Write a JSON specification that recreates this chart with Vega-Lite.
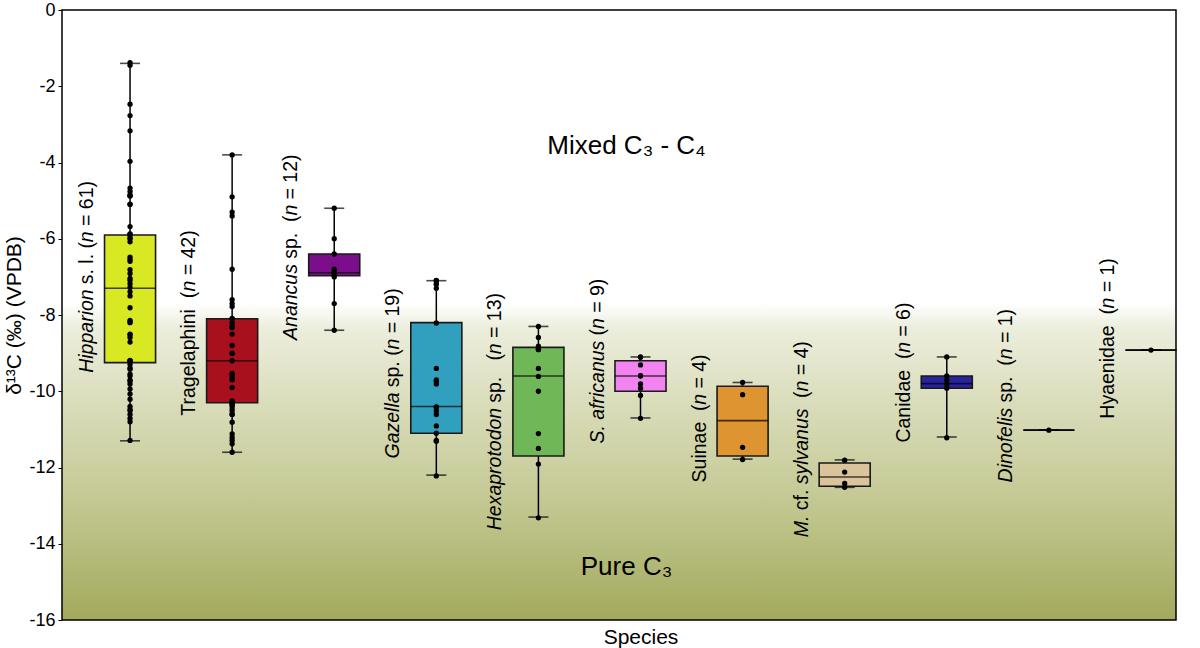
{
  "$schema": "https://vega.github.io/schema/vega-lite/v6.json",
  "width": 1114,
  "height": 610,
  "autosize": {"type": "none"},
  "padding": {"left": 62, "top": 10, "right": 24, "bottom": 28},
  "background": "#ffffff",
  "view": {
    "stroke": "#000000",
    "strokeWidth": 1.5,
    "fill": {
      "gradient": "linear", "x1": 0, "y1": 0, "x2": 0, "y2": 1,
      "stops": [
        {"offset": 0, "color": "#ffffff"},
        {"offset": 0.48, "color": "#ffffff"},
        {"offset": 0.52, "color": "#eceedd"},
        {"offset": 0.65, "color": "#d9dcb9"},
        {"offset": 0.8, "color": "#c4c994"},
        {"offset": 1, "color": "#a3aa5c"}
      ]
    }
  },
  "config": {
    "font": "Liberation Sans",
    "text": {"font": "Liberation Sans"},
    "axis": {"grid": false, "titleFontWeight": "normal", "titleColor": "#000000", "labelColor": "#000000", "titleFont": "Liberation Sans", "labelFont": "Liberation Sans"}
  },
  "datasets": {
    "boxes": [
      {"species": "Hipparion s. l.", "min": -11.3, "q1": -9.25, "median": -7.3, "q3": -5.9, "max": -1.4},
      {"species": "Tragelaphini", "min": -11.6, "q1": -10.3, "median": -9.2, "q3": -8.1, "max": -3.8},
      {"species": "Anancus sp.", "min": -8.4, "q1": -6.97, "median": -6.89, "q3": -6.4, "max": -5.2},
      {"species": "Gazella sp.", "min": -12.2, "q1": -11.1, "median": -10.4, "q3": -8.2, "max": -7.1},
      {"species": "Hexaprotodon sp.", "min": -13.3, "q1": -11.7, "median": -9.6, "q3": -8.85, "max": -8.3},
      {"species": "S. africanus", "min": -10.7, "q1": -10.0, "median": -9.6, "q3": -9.2, "max": -9.1},
      {"species": "Suinae", "min": -11.78, "q1": -11.7, "median": -10.77, "q3": -9.87, "max": -9.77},
      {"species": "M. cf. sylvanus", "min": -12.52, "q1": -12.49, "median": -12.25, "q3": -11.88, "max": -11.8},
      {"species": "Canidae", "min": -11.2, "q1": -9.92, "median": -9.8, "q3": -9.6, "max": -9.1},
      {"species": "Dinofelis sp.", "min": -11.02, "q1": -11.02, "median": -11.02, "q3": -11.02, "max": -11.02},
      {"species": "Hyaenidae", "min": -8.92, "q1": -8.92, "median": -8.92, "q3": -8.92, "max": -8.92}
    ],
    "points": [
      {"species": "Hipparion s. l.", "d13C": -1.38}, {"species": "Hipparion s. l.", "d13C": -1.45}, {"species": "Hipparion s. l.", "d13C": -2.47}, {"species": "Hipparion s. l.", "d13C": -2.77}, {"species": "Hipparion s. l.", "d13C": -3.17},
      {"species": "Hipparion s. l.", "d13C": -3.97}, {"species": "Hipparion s. l.", "d13C": -4.67}, {"species": "Hipparion s. l.", "d13C": -4.76}, {"species": "Hipparion s. l.", "d13C": -4.85}, {"species": "Hipparion s. l.", "d13C": -4.87},
      {"species": "Hipparion s. l.", "d13C": -4.88}, {"species": "Hipparion s. l.", "d13C": -5.09}, {"species": "Hipparion s. l.", "d13C": -5.1}, {"species": "Hipparion s. l.", "d13C": -5.68}, {"species": "Hipparion s. l.", "d13C": -5.87},
      {"species": "Hipparion s. l.", "d13C": -5.88}, {"species": "Hipparion s. l.", "d13C": -5.9}, {"species": "Hipparion s. l.", "d13C": -5.98}, {"species": "Hipparion s. l.", "d13C": -6.0}, {"species": "Hipparion s. l.", "d13C": -6.08},
      {"species": "Hipparion s. l.", "d13C": -6.48}, {"species": "Hipparion s. l.", "d13C": -6.54}, {"species": "Hipparion s. l.", "d13C": -6.59}, {"species": "Hipparion s. l.", "d13C": -6.81}, {"species": "Hipparion s. l.", "d13C": -6.91},
      {"species": "Hipparion s. l.", "d13C": -7.04}, {"species": "Hipparion s. l.", "d13C": -7.09}, {"species": "Hipparion s. l.", "d13C": -7.18}, {"species": "Hipparion s. l.", "d13C": -7.27}, {"species": "Hipparion s. l.", "d13C": -7.39},
      {"species": "Hipparion s. l.", "d13C": -7.5}, {"species": "Hipparion s. l.", "d13C": -7.81}, {"species": "Hipparion s. l.", "d13C": -8.14}, {"species": "Hipparion s. l.", "d13C": -8.18}, {"species": "Hipparion s. l.", "d13C": -8.2},
      {"species": "Hipparion s. l.", "d13C": -8.5}, {"species": "Hipparion s. l.", "d13C": -8.52}, {"species": "Hipparion s. l.", "d13C": -8.59}, {"species": "Hipparion s. l.", "d13C": -8.71}, {"species": "Hipparion s. l.", "d13C": -9.19},
      {"species": "Hipparion s. l.", "d13C": -9.2}, {"species": "Hipparion s. l.", "d13C": -9.21}, {"species": "Hipparion s. l.", "d13C": -9.22}, {"species": "Hipparion s. l.", "d13C": -9.29}, {"species": "Hipparion s. l.", "d13C": -9.39},
      {"species": "Hipparion s. l.", "d13C": -9.42}, {"species": "Hipparion s. l.", "d13C": -9.55}, {"species": "Hipparion s. l.", "d13C": -9.6}, {"species": "Hipparion s. l.", "d13C": -9.71}, {"species": "Hipparion s. l.", "d13C": -9.73},
      {"species": "Hipparion s. l.", "d13C": -9.81}, {"species": "Hipparion s. l.", "d13C": -9.94}, {"species": "Hipparion s. l.", "d13C": -10.07}, {"species": "Hipparion s. l.", "d13C": -10.21}, {"species": "Hipparion s. l.", "d13C": -10.4},
      {"species": "Hipparion s. l.", "d13C": -10.48}, {"species": "Hipparion s. l.", "d13C": -10.51}, {"species": "Hipparion s. l.", "d13C": -10.61}, {"species": "Hipparion s. l.", "d13C": -10.71}, {"species": "Hipparion s. l.", "d13C": -10.8},
      {"species": "Hipparion s. l.", "d13C": -11.29},
      {"species": "Tragelaphini", "d13C": -3.8}, {"species": "Tragelaphini", "d13C": -4.9}, {"species": "Tragelaphini", "d13C": -5.3}, {"species": "Tragelaphini", "d13C": -5.4}, {"species": "Tragelaphini", "d13C": -6.8},
      {"species": "Tragelaphini", "d13C": -7.6}, {"species": "Tragelaphini", "d13C": -7.7}, {"species": "Tragelaphini", "d13C": -7.78}, {"species": "Tragelaphini", "d13C": -8.09}, {"species": "Tragelaphini", "d13C": -8.1},
      {"species": "Tragelaphini", "d13C": -8.2}, {"species": "Tragelaphini", "d13C": -8.3}, {"species": "Tragelaphini", "d13C": -8.31}, {"species": "Tragelaphini", "d13C": -8.32}, {"species": "Tragelaphini", "d13C": -8.33},
      {"species": "Tragelaphini", "d13C": -8.5}, {"species": "Tragelaphini", "d13C": -8.8}, {"species": "Tragelaphini", "d13C": -9.0}, {"species": "Tragelaphini", "d13C": -9.01}, {"species": "Tragelaphini", "d13C": -9.2},
      {"species": "Tragelaphini", "d13C": -9.53}, {"species": "Tragelaphini", "d13C": -9.58}, {"species": "Tragelaphini", "d13C": -9.6}, {"species": "Tragelaphini", "d13C": -9.68}, {"species": "Tragelaphini", "d13C": -9.7},
      {"species": "Tragelaphini", "d13C": -9.9}, {"species": "Tragelaphini", "d13C": -10.25}, {"species": "Tragelaphini", "d13C": -10.28}, {"species": "Tragelaphini", "d13C": -10.29}, {"species": "Tragelaphini", "d13C": -10.3},
      {"species": "Tragelaphini", "d13C": -10.36}, {"species": "Tragelaphini", "d13C": -10.37}, {"species": "Tragelaphini", "d13C": -10.44}, {"species": "Tragelaphini", "d13C": -10.51}, {"species": "Tragelaphini", "d13C": -10.6},
      {"species": "Tragelaphini", "d13C": -10.61}, {"species": "Tragelaphini", "d13C": -10.81}, {"species": "Tragelaphini", "d13C": -11.12}, {"species": "Tragelaphini", "d13C": -11.21}, {"species": "Tragelaphini", "d13C": -11.29},
      {"species": "Tragelaphini", "d13C": -11.38}, {"species": "Tragelaphini", "d13C": -11.6},
      {"species": "Anancus sp.", "d13C": -5.2}, {"species": "Anancus sp.", "d13C": -6.0}, {"species": "Anancus sp.", "d13C": -6.4}, {"species": "Anancus sp.", "d13C": -6.8}, {"species": "Anancus sp.", "d13C": -6.86},
      {"species": "Anancus sp.", "d13C": -6.88}, {"species": "Anancus sp.", "d13C": -6.9}, {"species": "Anancus sp.", "d13C": -6.92}, {"species": "Anancus sp.", "d13C": -6.96}, {"species": "Anancus sp.", "d13C": -7.0},
      {"species": "Anancus sp.", "d13C": -7.7}, {"species": "Anancus sp.", "d13C": -8.4},
      {"species": "Gazella sp.", "d13C": -7.09}, {"species": "Gazella sp.", "d13C": -7.1}, {"species": "Gazella sp.", "d13C": -7.18}, {"species": "Gazella sp.", "d13C": -7.2}, {"species": "Gazella sp.", "d13C": -7.3},
      {"species": "Gazella sp.", "d13C": -8.21}, {"species": "Gazella sp.", "d13C": -9.4}, {"species": "Gazella sp.", "d13C": -9.7}, {"species": "Gazella sp.", "d13C": -9.74}, {"species": "Gazella sp.", "d13C": -9.81},
      {"species": "Gazella sp.", "d13C": -10.41}, {"species": "Gazella sp.", "d13C": -10.42}, {"species": "Gazella sp.", "d13C": -10.51}, {"species": "Gazella sp.", "d13C": -10.61}, {"species": "Gazella sp.", "d13C": -10.91},
      {"species": "Gazella sp.", "d13C": -11.1}, {"species": "Gazella sp.", "d13C": -11.29}, {"species": "Gazella sp.", "d13C": -11.31}, {"species": "Gazella sp.", "d13C": -12.22},
      {"species": "Hexaprotodon sp.", "d13C": -8.3}, {"species": "Hexaprotodon sp.", "d13C": -8.59}, {"species": "Hexaprotodon sp.", "d13C": -8.82}, {"species": "Hexaprotodon sp.", "d13C": -8.88}, {"species": "Hexaprotodon sp.", "d13C": -8.9},
      {"species": "Hexaprotodon sp.", "d13C": -8.91}, {"species": "Hexaprotodon sp.", "d13C": -9.4}, {"species": "Hexaprotodon sp.", "d13C": -9.61}, {"species": "Hexaprotodon sp.", "d13C": -10.0}, {"species": "Hexaprotodon sp.", "d13C": -11.11},
      {"species": "Hexaprotodon sp.", "d13C": -11.5}, {"species": "Hexaprotodon sp.", "d13C": -11.91}, {"species": "Hexaprotodon sp.", "d13C": -13.32},
      {"species": "S. africanus", "d13C": -9.1}, {"species": "S. africanus", "d13C": -9.11}, {"species": "S. africanus", "d13C": -9.31}, {"species": "S. africanus", "d13C": -9.59}, {"species": "S. africanus", "d13C": -9.6},
      {"species": "S. africanus", "d13C": -9.81}, {"species": "S. africanus", "d13C": -9.92}, {"species": "S. africanus", "d13C": -10.11}, {"species": "S. africanus", "d13C": -10.71},
      {"species": "Suinae", "d13C": -9.77}, {"species": "Suinae", "d13C": -10.09}, {"species": "Suinae", "d13C": -11.47}, {"species": "Suinae", "d13C": -11.79},
      {"species": "M. cf. sylvanus", "d13C": -11.81}, {"species": "M. cf. sylvanus", "d13C": -12.12}, {"species": "M. cf. sylvanus", "d13C": -12.42}, {"species": "M. cf. sylvanus", "d13C": -12.52},
      {"species": "Canidae", "d13C": -9.1}, {"species": "Canidae", "d13C": -9.6}, {"species": "Canidae", "d13C": -9.71}, {"species": "Canidae", "d13C": -9.82}, {"species": "Canidae", "d13C": -9.92}, {"species": "Canidae", "d13C": -11.22},
      {"species": "Dinofelis sp.", "d13C": -11.02},
      {"species": "Hyaenidae", "d13C": -8.92}
    ],
    "labelsItalic": [
      {"species": "Hipparion s. l.", "text": "Hipparion", "at": -9.516},
      {"species": "Hipparion s. l.", "text": "n", "at": -6.089},
      {"species": "Tragelaphini", "text": "n", "at": -7.383},
      {"species": "Anancus sp.", "text": "Anancus", "at": -8.654},
      {"species": "Anancus sp.", "text": "n", "at": -5.393},
      {"species": "Gazella sp.", "text": "Gazella", "at": -11.765},
      {"species": "Gazella sp.", "text": "n", "at": -8.905},
      {"species": "Hexaprotodon sp.", "text": "Hexaprotodon", "at": -13.647},
      {"species": "Hexaprotodon sp.", "text": "n", "at": -9.027},
      {"species": "S. africanus", "text": "S.\u00a0africanus", "at": -11.373},
      {"species": "S. africanus", "text": "n", "at": -8.369},
      {"species": "Suinae", "text": "n", "at": -10.353},
      {"species": "M. cf. sylvanus", "text": "M.", "at": -13.83},
      {"species": "M. cf. sylvanus", "text": "sylvanus", "at": -12.442},
      {"species": "M. cf. sylvanus", "text": "n", "at": -10.005},
      {"species": "Canidae", "text": "n", "at": -8.993},
      {"species": "Dinofelis sp.", "text": "Dinofelis", "at": -12.392},
      {"species": "Dinofelis sp.", "text": "n", "at": -9.161},
      {"species": "Hyaenidae", "text": "n", "at": -7.83}
    ],
    "labelsRoman": [
      {"species": "Hipparion s. l.", "text": "s.\u00a0l.\u00a0(", "at": -7.194},
      {"species": "Hipparion s. l.", "text": "=\u00a061)", "at": -5.664},
      {"species": "Tragelaphini", "text": "Tragelaphini\u00a0\u00a0(", "at": -10.641},
      {"species": "Tragelaphini", "text": "=\u00a042)", "at": -6.959},
      {"species": "Anancus sp.", "text": "sp.\u00a0\u00a0(", "at": -6.527},
      {"species": "Anancus sp.", "text": "=\u00a012)", "at": -4.969},
      {"species": "Gazella sp.", "text": "sp.\u00a0(", "at": -9.895},
      {"species": "Gazella sp.", "text": "=\u00a019)", "at": -8.48},
      {"species": "Hexaprotodon sp.", "text": "sp.\u00a0\u00a0\u00a0(", "at": -10.302},
      {"species": "Hexaprotodon sp.", "text": "=\u00a013)", "at": -8.603},
      {"species": "S. africanus", "text": "(", "at": -8.538},
      {"species": "S. africanus", "text": "=\u00a09)", "at": -7.944},
      {"species": "Suinae", "text": "Suinae\u00a0\u00a0(", "at": -12.392},
      {"species": "Suinae", "text": "=\u00a04)", "at": -9.929},
      {"species": "M. cf. sylvanus", "text": "cf.", "at": -13.121},
      {"species": "M. cf. sylvanus", "text": "(", "at": -10.175},
      {"species": "M. cf. sylvanus", "text": "=\u00a04)", "at": -9.581},
      {"species": "Canidae", "text": "Canidae\u00a0\u00a0(", "at": -11.346},
      {"species": "Canidae", "text": "=\u00a06)", "at": -8.569},
      {"species": "Dinofelis sp.", "text": "sp.\u00a0\u00a0(", "at": -10.295},
      {"species": "Dinofelis sp.", "text": "=\u00a01)", "at": -8.736},
      {"species": "Hyaenidae", "text": "Hyaenidae\u00a0\u00a0(", "at": -10.719},
      {"species": "Hyaenidae", "text": "=\u00a01)", "at": -7.406}
    ],
    "zones": [
      {"text": "Mixed C₃ - C₄", "at": -3.79},
      {"text": "Pure C₃", "at": -14.82}
    ]
  },
  "encoding": {
    "x": {
      "field": "species", "type": "nominal", "title": "Species",
      "scale": {
        "domain": ["Hipparion s. l.", "Tragelaphini", "Anancus sp.", "Gazella sp.", "Hexaprotodon sp.", "S. africanus", "Suinae", "M. cf. sylvanus", "Canidae", "Dinofelis sp.", "Hyaenidae"],
        "range": [17, 1140], "paddingInner": 0, "paddingOuter": 0
      },
      "axis": {"labels": false, "ticks": false, "domain": false, "titleFontSize": 21, "titlePadding": 6}
    }
  },
  "layer": [
    {
      "data": {"name": "boxes"},
      "mark": {"type": "rule", "color": "#000000", "strokeWidth": 1.5},
      "encoding": {
        "y": {"field": "min", "type": "quantitative", "title": "δ¹³C (‰) (VPDB)",
          "scale": {"domain": [-16, 0], "nice": false, "zero": false},
          "axis": {"values": [0, -2, -4, -6, -8, -10, -12, -14, -16], "labelExpr": "'' + datum.value", "domain": false, "tickSize": 4, "tickColor": "#000000", "labelFontSize": 18, "labelPadding": 3, "titleFontSize": 21, "titlePadding": 4}},
        "y2": {"field": "max"}
      }
    },
    {
      "data": {"name": "boxes"},
      "mark": {"type": "bar", "width": {"band": 0.5}, "stroke": "#1a1a1a", "strokeWidth": 1.6, "fillOpacity": 1},
      "encoding": {
        "y": {"field": "q1", "type": "quantitative", "title": "δ¹³C (‰) (VPDB)"},
        "y2": {"field": "q3"},
        "color": {"field": "species", "type": "nominal", "legend": null,
          "scale": {
            "domain": ["Hipparion s. l.", "Tragelaphini", "Anancus sp.", "Gazella sp.", "Hexaprotodon sp.", "S. africanus", "Suinae", "M. cf. sylvanus", "Canidae", "Dinofelis sp.", "Hyaenidae"],
            "range": ["#d8e823", "#a8101d", "#7c0e8c", "#31a0bf", "#70b857", "#f383f0", "#df9432", "#dbc39c", "#2a23a0", "#000000", "#000000"]
          }}
      }
    },
    {
      "data": {"name": "boxes"},
      "mark": {"type": "tick", "color": "#000000", "size": 51, "thickness": 1.6},
      "encoding": {"y": {"field": "median", "type": "quantitative", "title": "δ¹³C (‰) (VPDB)"}}
    },
    {
      "data": {"name": "boxes"},
      "mark": {"type": "tick", "color": "#000000", "size": 20, "thickness": 1.6},
      "encoding": {"y": {"field": "max", "type": "quantitative", "title": "δ¹³C (‰) (VPDB)"}}
    },
    {
      "data": {"name": "boxes"},
      "mark": {"type": "tick", "color": "#000000", "size": 20, "thickness": 1.6},
      "encoding": {"y": {"field": "min", "type": "quantitative", "title": "δ¹³C (‰) (VPDB)"}}
    },
    {
      "data": {"name": "points"},
      "mark": {"type": "circle", "color": "#000000", "size": 28, "opacity": 1},
      "encoding": {"y": {"field": "d13C", "type": "quantitative", "title": "δ¹³C (‰) (VPDB)"}}
    },
    {
      "data": {"name": "labelsItalic"},
      "mark": {"type": "text", "angle": 270, "align": "left", "baseline": "alphabetic", "dy": -37, "fontSize": 19.5, "fontStyle": "italic", "color": "#000000"},
      "encoding": {
        "y": {"field": "at", "type": "quantitative", "title": "δ¹³C (‰) (VPDB)"},
        "text": {"field": "text"}
      }
    },
    {
      "data": {"name": "labelsRoman"},
      "mark": {"type": "text", "angle": 270, "align": "left", "baseline": "alphabetic", "dy": -37, "fontSize": 19.5, "color": "#000000"},
      "encoding": {
        "y": {"field": "at", "type": "quantitative", "title": "δ¹³C (‰) (VPDB)"},
        "text": {"field": "text"}
      }
    },
    {
      "data": {"name": "zones"},
      "mark": {"type": "text", "align": "center", "baseline": "alphabetic", "dx": -14, "fontSize": 26, "color": "#000000"},
      "encoding": {
        "x": {"datum": "S. africanus", "type": "nominal"},
        "y": {"field": "at", "type": "quantitative", "title": "δ¹³C (‰) (VPDB)"},
        "text": {"field": "text"}
      }
    }
  ]
}
